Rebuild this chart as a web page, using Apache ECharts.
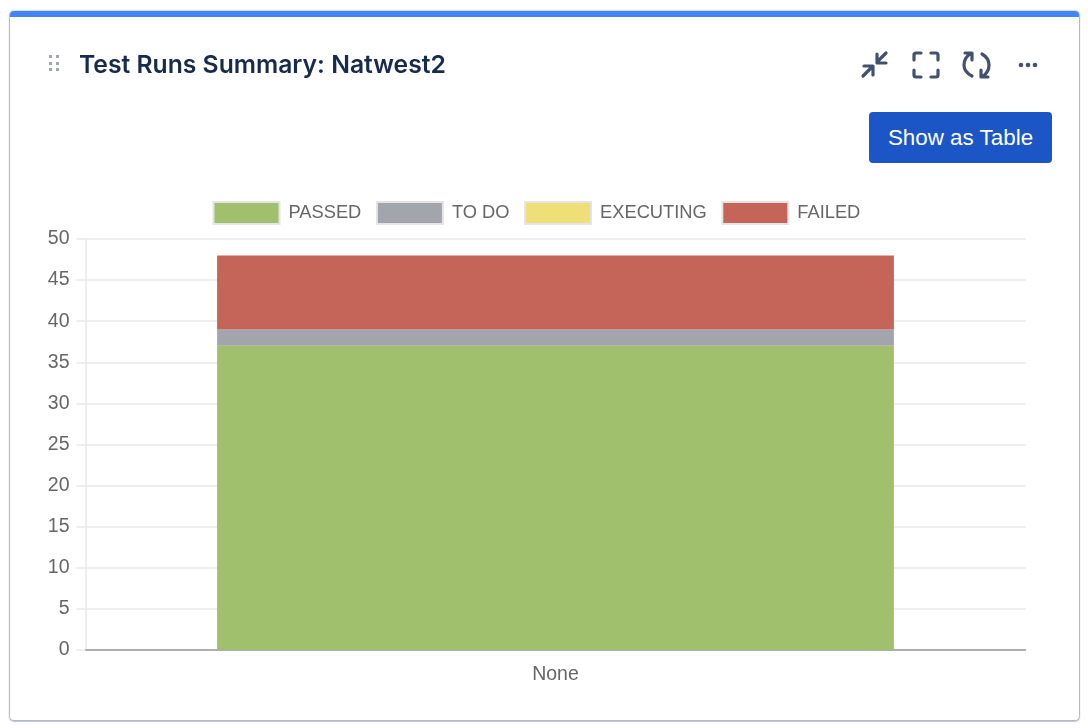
<!DOCTYPE html>
<html>
<head>
<meta charset="utf-8">
<script src="https://cdn.jsdelivr.net/npm/echarts@6/dist/echarts.min.js"></script>
<style>
html,body{margin:0;padding:0;width:1088px;height:728px;background:#fff;overflow:hidden}
#card{position:absolute;left:10px;top:11px;width:1069px;height:709px;box-sizing:border-box;background:#fff;border-radius:4px;box-shadow:0 0 1px 1px rgba(120,130,160,.28),0 1px 1px 1px rgba(110,120,160,.4);overflow:hidden}
#bar{position:absolute;left:0;top:0;right:0;height:6px;background:#4285f4}
#title{position:absolute;left:79px;top:49px;font:600 24.7px/30px Inter,sans-serif;color:#172b4d;white-space:nowrap}
#btn{position:absolute;left:869px;top:112px;width:183px;height:51px;background:#1c56c6;border-radius:4px;color:#fff;font:22.4px/51px "Liberation Sans",sans-serif;text-align:center}
#chart{position:absolute;left:0;top:0;width:1088px;height:728px}
svg.i{position:absolute;overflow:visible}
</style>
</head>
<body>
<div id="card"><div id="bar"></div></div>
<div id="chart"></div>
<svg class="i" style="left:0;top:0" width="1088" height="728">
  <g fill="#a0a6b4"><rect x="49" y="55" width="3" height="3"/><rect x="56" y="55" width="3" height="3"/><rect x="49" y="62" width="3" height="3"/><rect x="56" y="62" width="3" height="3"/><rect x="49" y="68" width="3" height="3"/><rect x="56" y="68" width="3" height="3"/></g>
  <g fill="none" stroke="#42526e" stroke-width="3.2" stroke-linecap="round" stroke-linejoin="round">
    <path d="M863 76L872 67M864 66H873V75"/>
    <path d="M886 53L877 62M877 54V63H886"/>
    <path d="M914 60V55Q914 53 916 53H921M931 53H936Q938 53 938 55V60M938 70V75Q938 77 936 77H931M921 77H916Q914 77 914 75V70"/>
    <path d="M972 76Q964 72 964 65Q964 58 970 54M965 53H972V60"/>
    <path d="M982 54Q989 58 989 65Q989 72 983 76M988 77H981V70"/>
  </g>
  <g fill="#42526e"><circle cx="1021" cy="65" r="2.3"/><circle cx="1028" cy="65" r="2.3"/><circle cx="1035" cy="65" r="2.3"/></g>
</svg>
<div id="title">Test Runs Summary: Natwest2</div>
<div id="btn">Show as Table</div>
<script>
const categories = ['None'];
const passed = [37];
const toDo = [2];
const executing = [0];
const failed = [9];
const seriesNames = ['PASSED', 'TO DO', 'EXECUTING', 'FAILED'];
const seriesColors = ['#a0c06d', '#a2a5ac', '#efdf79', '#c56459'];
const seriesValues = [passed, toDo, executing, failed];

const chart = echarts.init(document.getElementById('chart'), null, {renderer: 'canvas'});
chart.setOption({
  animation: false,
  textStyle: {fontFamily: '"Liberation Sans", sans-serif'},
  legend: {
    top: 201, left: 212.5, padding: 0,
    itemWidth: 66, itemHeight: 22, itemGap: 14.6,
    icon: 'rect',
    data: seriesNames,
    selectedMode: false,
    textStyle: {fontSize: 18.3, color: '#666', padding: [0, 0, 0, 4], fontFamily: '"Liberation Sans", sans-serif'},
    itemStyle: {borderColor: '#e4e4e4', borderWidth: 2}
  },
  grid: {left: 85.5, right: 62.5, top: 239, bottom: 78, containLabel: false},
  xAxis: {
    type: 'category', data: categories,
    axisLine: {show: true, lineStyle: {color: '#999', width: 1.5}},
    axisTick: {show: false},
    axisLabel: {fontSize: 19.5, color: '#666', margin: 15},
    splitLine: {show: false}
  },
  yAxis: {
    type: 'value', min: 0, max: 50, interval: 5,
    axisLine: {show: true, lineStyle: {color: '#e8e8e8', width: 1.5}},
    axisTick: {show: true, length: 9, lineStyle: {color: '#e8e8e8', width: 1.5}},
    axisLabel: {fontSize: 19.5, color: '#666', margin: 16},
    splitLine: {show: true, lineStyle: {color: '#e8e8e8', width: 1.5}}
  },
  series: seriesNames.map((name, i) => ({
    name, type: 'bar', stack: 'total', barWidth: '72%',
    data: seriesValues[i],
    itemStyle: {color: seriesColors[i]}
  }))
});
</script>
</body>
</html>
